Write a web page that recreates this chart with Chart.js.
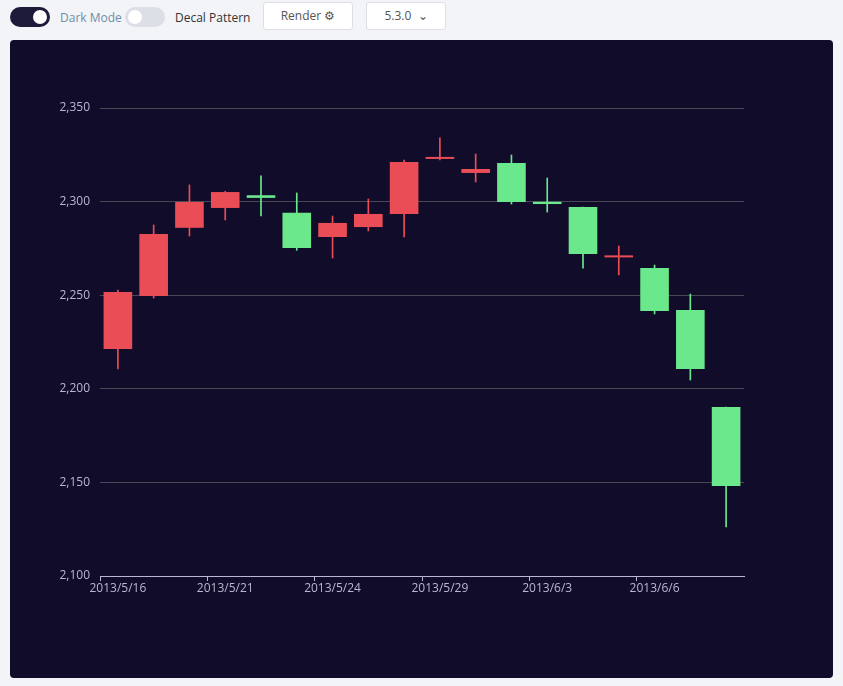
<!DOCTYPE html>
<html><head><meta charset="utf-8">
<script src="https://cdn.jsdelivr.net/npm/chart.js@4/dist/chart.umd.min.js"></script>
<style>
body{margin:0;background:#f3f4f8;font-family:"Open Sans","Noto Sans",sans-serif;width:843px;height:686px;overflow:hidden;position:relative}
.bar{position:absolute;left:0;top:0;width:843px;height:36px;font-size:12px;color:#333}
.sw{position:absolute;top:7px;width:40px;height:20px;border-radius:10px}
.sw i{position:absolute;top:3px;width:14px;height:14px;border-radius:7px;background:#fff}
.btn{position:absolute;top:2px;height:26px;border:1px solid #dcdfe6;background:#fff;border-radius:3px;line-height:26px;text-align:center;font-size:12px;color:#555}
#panel{position:absolute;left:10px;top:40px;width:823px;height:638px;background:#100c2a;border-radius:4px}
</style></head><body>
<div class="bar">
<div class="sw" style="left:10px;background:#1e1a3a"><i style="left:23px"></i></div>
<span style="position:absolute;left:60px;top:9px;color:#6d8ea6">Dark Mode</span>
<div class="sw" style="left:125px;background:#dcdfe6"><i style="left:3px"></i></div>
<span style="position:absolute;left:175px;top:9px">Decal Pattern</span>
<div class="btn" style="left:263px;width:88px">Render ⚙</div>
<div class="btn" style="left:366px;width:78px">5.3.0 &nbsp;⌄</div>
</div>
<div id="panel"><canvas id="c" width="823" height="638"></canvas></div>
<script>
const categories=['2013/5/16','2013/5/17','2013/5/20','2013/5/21','2013/5/22','2013/5/23','2013/5/24','2013/5/27','2013/5/28','2013/5/29','2013/5/30','2013/5/31','2013/6/3','2013/6/4','2013/6/5','2013/6/6','2013/6/7','2013/6/13'];
const openV =[2221.2,2249.6,2286.0,2296.6,2303.4,2294.0,2281.1,2286.4,2293.4,2322.8,2315.3,2320.6,2299.9,2297.1,2270.2,2264.5,2242.1,2190.3];
const closeV=[2251.7,2282.7,2299.8,2305.1,2302.0,2275.2,2288.6,2293.4,2321.2,2323.8,2317.4,2299.8,2298.7,2272.0,2270.6,2241.6,2210.6,2148.1];
const lowV  =[2210.6,2248.5,2281.6,2290.2,2292.3,2274.0,2269.9,2284.3,2281.1,2322.2,2310.5,2298.7,2294.4,2264.5,2260.8,2240.0,2204.7,2126.2];
const highV =[2252.8,2287.5,2308.9,2305.5,2313.7,2304.6,2292.3,2301.4,2322.2,2334.0,2325.4,2324.9,2312.6,2297.1,2276.3,2266.1,2250.6,2190.3];
const RED='#eb4d56',GREEN='#6be88c';
const col=categories.map((c,i)=>closeV[i]>=openV[i]?RED:GREEN);
new Chart(document.getElementById('c'),{
type:'bar',
data:{labels:categories,datasets:[
{data:categories.map((c,i)=>[openV[i],closeV[i]]),backgroundColor:col,borderWidth:0,barPercentage:0.8,categoryPercentage:1,grouped:false,minBarLength:2,order:0},
{data:categories.map((c,i)=>[lowV[i],highV[i]]),backgroundColor:col,borderWidth:0,barThickness:1,grouped:false,order:1}
]},
options:{responsive:false,animation:false,
layout:{padding:{top:68,right:89,left:0,bottom:0}},
plugins:{legend:{display:false},tooltip:{enabled:false}},
scales:{
x:{offset:true,afterFit:s=>{s.height=102},
grid:{offset:true,drawOnChartArea:false,tickLength:5,color:ctx=>(ctx.index%3===0)?'#b9b8ce':'rgba(0,0,0,0)'},
border:{color:'#b9b8ce'},
ticks:{autoSkip:false,maxRotation:0,color:'#b9b8ce',font:{size:12,family:'"Open Sans"'},padding:0,callback:(v,i)=>i%3===0?categories[i]:''}},
y:{min:2100,max:2350,afterFit:s=>{s.width=90},
grid:{color:'#484753',drawTicks:false},border:{display:false},
ticks:{stepSize:50,color:'#b9b8ce',padding:10,font:{size:12,family:'"Open Sans"'},callback:v=>v.toLocaleString('en-US')}}
}}
});
</script></body></html>
